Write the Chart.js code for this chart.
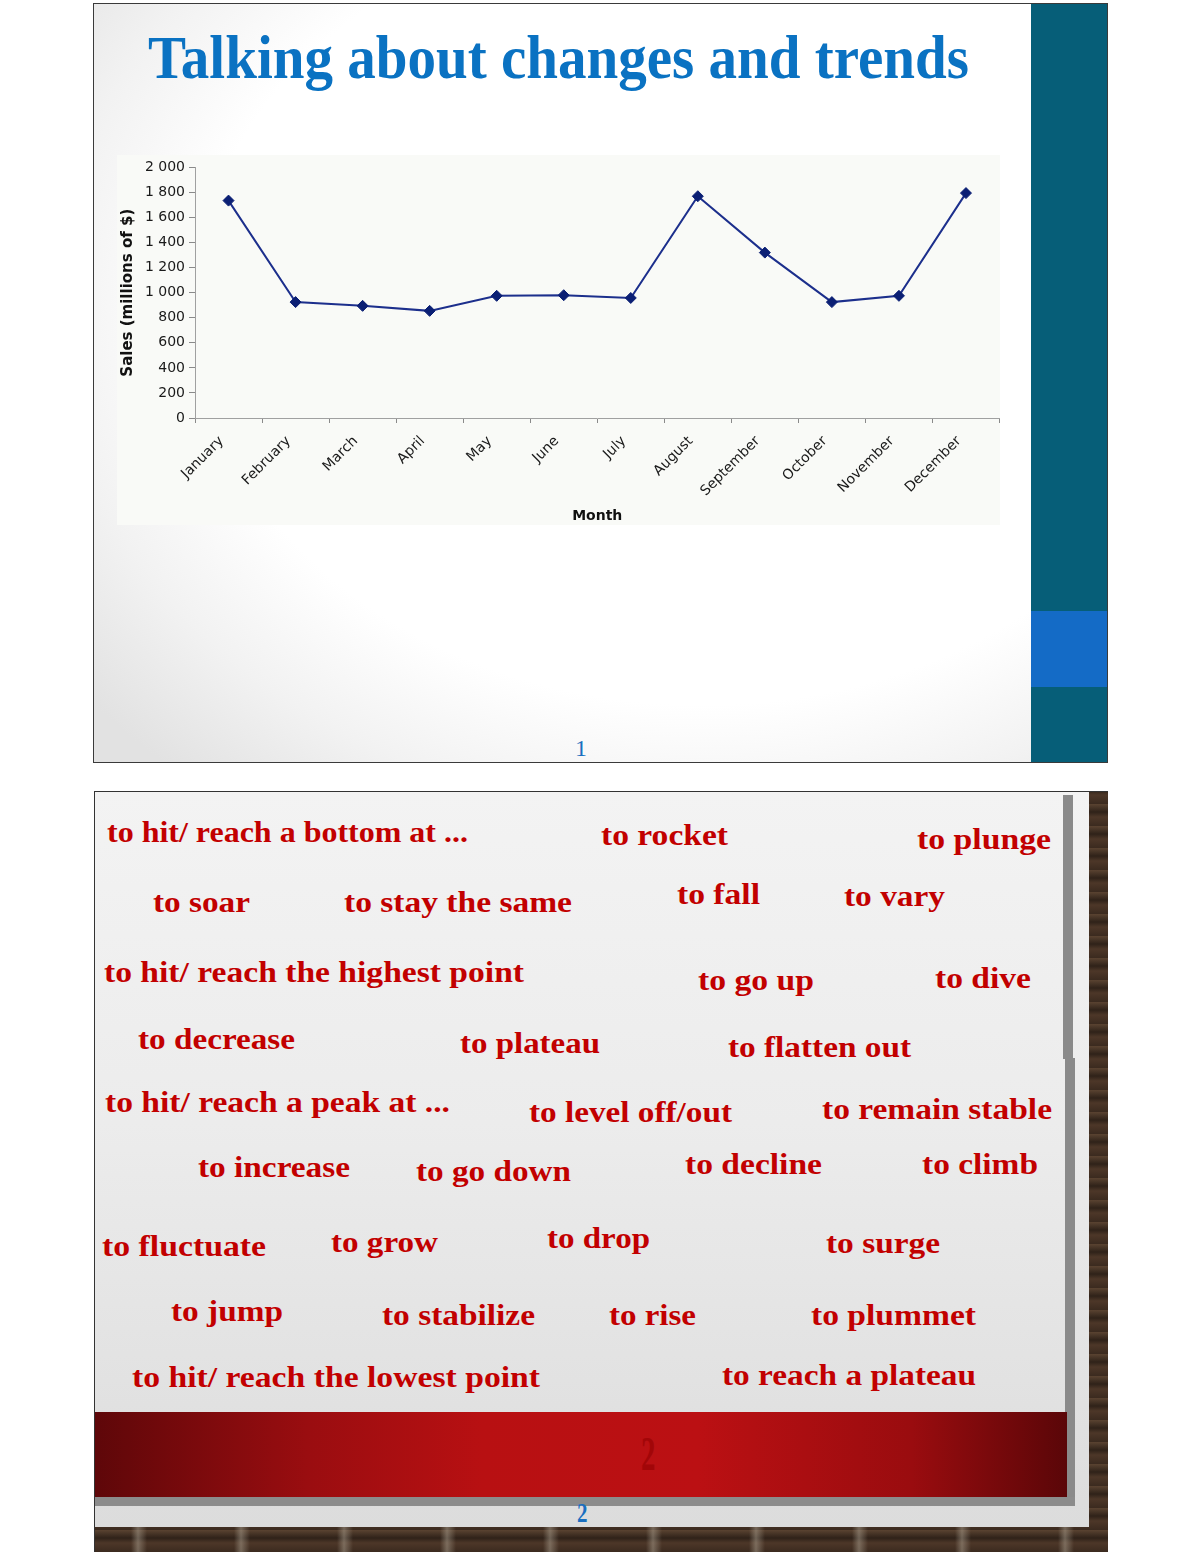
<!DOCTYPE html>
<html>
<head>
<meta charset="utf-8">
<script src="https://cdn.jsdelivr.net/npm/chart.js@4.4.1/dist/chart.umd.min.js"></script>
<style>
  html, body { margin: 0; padding: 0; background: #ffffff; }
  body { width: 1200px; height: 1553px; position: relative; overflow: hidden; font-family: "Liberation Serif", serif; }
  .abs { position: absolute; }
  #slide1 { left: 93px; top: 3px; width: 1013px; height: 758px; border: 1px solid #3a3a3a;
    background: radial-gradient(ellipse 78% 82% at 60% 40%, #ffffff 64%, #f2f2f2 82%, #e2e2e2 100%); }
  #teal { left: 1031px; top: 4px; width: 76px; height: 758px; background: #065e78; }
  #blue { left: 1031px; top: 611px; width: 76px; height: 76px; background: #146bc6; }
  #title { left: 148px; top: 22px; font-family: "Liberation Serif", serif; font-weight: bold; font-size: 62px;
    color: #0a72c2; white-space: nowrap; transform-origin: 0 0; line-height: 70px; }
  #chartBox { left: 117px; top: 155px; width: 883px; height: 370px; background: #f9faf7; }
  #c { position: absolute; left: 0; top: 0; }
  #pg1 { left: 575px; top: 734px; font-size: 24px; color: #1a6fc0; line-height: 28px; }
  #s2bg { left: 94px; top: 791px; width: 1014px; height: 761px;
    background:
      radial-gradient(ellipse 14px 10px at 30% 40%, rgba(200,190,175,0.7), rgba(0,0,0,0)),
      radial-gradient(ellipse 10px 14px at 70% 60%, rgba(190,180,165,0.6), rgba(0,0,0,0)),
      repeating-linear-gradient(90deg, rgba(0,0,0,0) 0px, rgba(0,0,0,0) 37px, rgba(185,175,158,0.45) 44px, rgba(0,0,0,0) 53px, rgba(0,0,0,0) 103px),
      repeating-linear-gradient(0deg, #3b2a1f 0px, #4d3728 9px, #2f2219 14px, #5a4331 22px);
  }
  #panel { left: 95px; top: 792px; width: 994px; height: 735px;
    background: linear-gradient(180deg, #f3f3f3 0%, #ececec 45%, #e2e2e2 80%, #dcdcdc 100%); }
  #vstrip1 { left: 1063px; top: 795px; width: 10px; height: 264px; background: #8a8a8a; }
  #vstrip2 { left: 1065px; top: 1058px; width: 10px; height: 448px; background: #8a8a8a; }
  #hstrip { left: 94px; top: 1497px; width: 981px; height: 9px; background: #8c8c8c; }
  #redbar { left: 94px; top: 1412px; width: 973px; height: 85px;
    background: linear-gradient(90deg, #5e0709 0%, #9a0d10 22%, #b81012 40%, #bb1013 62%, #9a0c0f 84%, #5a0608 100%); }
  #s2top { left: 94px; top: 791px; width: 1014px; height: 1px; background: #333; }
  #s2left { left: 94px; top: 791px; width: 1px; height: 761px; background: #333; }
  #red2 { left: 641px; top: 1428px; font-size: 48px; font-weight: bold; color: #a20608; transform: scaleX(0.6); transform-origin: 0 0; line-height: 52px; }
  #pg2 { left: 577px; top: 1498px; font-size: 28px; font-weight: bold; color: #1a6fc0; transform: scaleX(0.75); transform-origin: 0 0; line-height: 30px; }
  .w { position: absolute; font-family: "Liberation Serif", serif; font-weight: bold; font-size: 30px;
    color: #c20000; white-space: nowrap; line-height: 30px; transform-origin: 0 0; }
</style>
</head>
<body>
<div id="slide1" class="abs"></div>
<div id="teal" class="abs"></div>
<div id="blue" class="abs"></div>
<div id="title" class="abs fit" data-w="821">Talking about changes and trends</div>
<div id="chartBox" class="abs"><canvas id="c" width="889" height="370"></canvas></div>
<div id="pg1" class="abs">1</div>

<div id="s2bg" class="abs"></div>
<div id="panel" class="abs"></div>
<div id="vstrip1" class="abs"></div>
<div id="vstrip2" class="abs"></div>
<div id="hstrip" class="abs"></div>
<div id="redbar" class="abs"></div>
<div id="s2top" class="abs"></div>
<div id="s2left" class="abs"></div>
<div id="red2" class="abs">2</div>
<div id="pg2" class="abs">2</div>

<div class="w fit" data-w="361" style="left:107px;top:817px">to hit/ reach a bottom at ...</div>
<div class="w fit" data-w="127" style="left:601px;top:820px">to rocket</div>
<div class="w fit" data-w="134" style="left:917px;top:824px">to plunge</div>
<div class="w fit" data-w="97" style="left:153px;top:887px">to soar</div>
<div class="w fit" data-w="228" style="left:344px;top:887px">to stay the same</div>
<div class="w fit" data-w="83" style="left:677px;top:879px">to fall</div>
<div class="w fit" data-w="101" style="left:844px;top:881px">to vary</div>
<div class="w fit" data-w="420" style="left:104px;top:957px">to hit/ reach the highest point</div>
<div class="w fit" data-w="116" style="left:698px;top:965px">to go up</div>
<div class="w fit" data-w="96" style="left:935px;top:963px">to dive</div>
<div class="w fit" data-w="157" style="left:138px;top:1024px">to decrease</div>
<div class="w fit" data-w="140" style="left:460px;top:1028px">to plateau</div>
<div class="w fit" data-w="183" style="left:728px;top:1032px">to flatten out</div>
<div class="w fit" data-w="345" style="left:105px;top:1087px">to hit/ reach a peak at ...</div>
<div class="w fit" data-w="203" style="left:529px;top:1097px">to level off/out</div>
<div class="w fit" data-w="230" style="left:822px;top:1094px">to remain stable</div>
<div class="w fit" data-w="152" style="left:198px;top:1152px">to increase</div>
<div class="w fit" data-w="155" style="left:416px;top:1156px">to go down</div>
<div class="w fit" data-w="137" style="left:685px;top:1149px">to decline</div>
<div class="w fit" data-w="116" style="left:922px;top:1149px">to climb</div>
<div class="w fit" data-w="164" style="left:102px;top:1231px">to fluctuate</div>
<div class="w fit" data-w="107" style="left:331px;top:1227px">to grow</div>
<div class="w fit" data-w="103" style="left:547px;top:1223px">to drop</div>
<div class="w fit" data-w="114" style="left:826px;top:1228px">to surge</div>
<div class="w fit" data-w="112" style="left:171px;top:1296px">to jump</div>
<div class="w fit" data-w="153" style="left:382px;top:1300px">to stabilize</div>
<div class="w fit" data-w="87" style="left:609px;top:1300px">to rise</div>
<div class="w fit" data-w="165" style="left:811px;top:1300px">to plummet</div>
<div class="w fit" data-w="408" style="left:132px;top:1362px">to hit/ reach the lowest point</div>
<div class="w fit" data-w="254" style="left:722px;top:1360px">to reach a plateau</div>

<script>
// ---- chart data ----
const months = ["January","February","March","April","May","June","July","August","September","October","November","December"];
const sales = [1735, 925, 895, 855, 975, 980, 958, 1770, 1320, 925, 975, 1795];
const yTicks = [0, 200, 400, 600, 800, 1000, 1200, 1400, 1600, 1800, 2000];
const xTitle = "Month";
const yTitle = "Sales (millions of $)";

// fit real text to measured widths
document.querySelectorAll('.fit').forEach(el => {
  const target = parseFloat(el.dataset.w);
  const actual = el.getBoundingClientRect().width;
  if (actual > 0) el.style.transform = 'scaleX(' + (target / actual) + ')';
});

const fmt = v => { const s = String(v); return s.length > 3 ? s.slice(0, s.length - 3) + ' ' + s.slice(-3) : s; };

new Chart(document.getElementById('c'), {
  type: 'line',
  data: {
    labels: months,
    datasets: [{
      data: sales,
      borderColor: '#1c2f8c',
      backgroundColor: '#0b1f74',
      borderWidth: 2,
      pointStyle: 'rectRot',
      pointRadius: 5.5,
      pointBorderWidth: 1,
      pointBorderColor: '#0b1f74',
      tension: 0,
      fill: false
    }]
  },
  options: {
    responsive: false,
    devicePixelRatio: 1,
    animation: false,
    layout: { padding: { top: 8, right: 0, left: 0, bottom: 0 } },
    plugins: { legend: { display: false }, tooltip: { enabled: false } },
    scales: {
      x: {
        type: 'category',
        offset: true,
        grid: { offset: true, drawOnChartArea: false, drawTicks: true, tickLength: 5, color: '#8a8a8a' },
        border: { display: true, color: '#a0a0a0', width: 1 },
        ticks: { minRotation: 45, maxRotation: 45, autoSkip: false, color: '#1a1a1a', padding: 10, labelOffset: -7,
                 font: { family: 'DejaVu Sans', size: 14 } },
        title: { display: true, text: xTitle, color: '#111', padding: { top: 4, bottom: 0 },
                 font: { family: 'DejaVu Sans', size: 14, weight: 'bold' } },
        afterFit: s => { s.height = 107; }
      },
      y: {
        min: 0, max: 2000,
        afterBuildTicks: s => { s.ticks = yTicks.map(v => ({ value: v })); },
        grid: { drawOnChartArea: false, drawTicks: true, tickLength: 6, color: '#8a8a8a' },
        border: { display: true, color: '#a0a0a0', width: 1 },
        ticks: { color: '#1a1a1a', padding: 4, callback: v => fmt(v),
                 font: { family: 'DejaVu Sans', size: 14 } },
        title: { display: true, text: yTitle, color: '#111', padding: { top: 2, bottom: 2 },
                 font: { family: 'DejaVu Sans', size: 15, weight: 'bold' } },
        afterFit: s => { s.width = 78; }
      }
    }
  }
});
</script>
</body>
</html>
